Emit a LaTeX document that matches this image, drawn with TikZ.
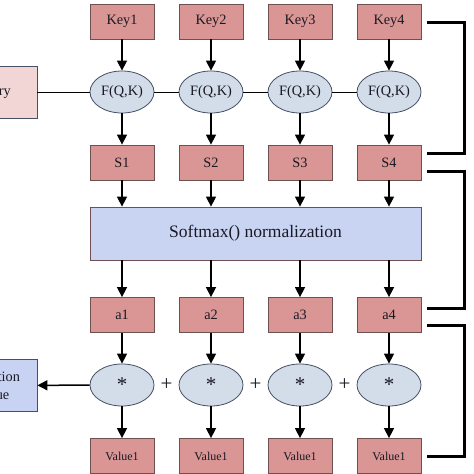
\documentclass[tikz,border=0pt]{standalone}
\usepackage{fontspec}
\setmainfont{Liberation Serif}
\usetikzlibrary{shapes.geometric,arrows.meta,calc}
\definecolor{boxred}{RGB}{217,150,148}
\definecolor{boxredline}{RGB}{110,80,80}
\definecolor{ellfill}{RGB}{210,221,233}
\definecolor{ellline}{RGB}{70,80,100}
\definecolor{softfill}{RGB}{201,212,243}
\definecolor{queryfill}{RGB}{242,214,213}
\definecolor{attfill}{RGB}{200,210,242}
\definecolor{txt}{RGB}{25,25,35}
\tikzset{
  redbox/.style={draw=boxredline, fill=boxred, line width=0.8pt, minimum width=64pt, minimum height=35pt, inner sep=0pt, text=txt, font=\fontsize{14.3}{16}\selectfont},
  valbox/.style={redbox, font=\fontsize{12}{14}\selectfont},
  fell/.style={ellipse, draw=ellline, fill=ellfill, line width=0.8pt, minimum width=64pt, minimum height=42pt, inner sep=0pt, text=txt, font=\fontsize{14.3}{16}\selectfont},
  star/.style={fell, font=\fontsize{21}{22}\selectfont},
  arr/.style={line width=1.5pt, -{Triangle[width=10pt,length=10pt]}},
  thin/.style={line width=1pt},
  brack/.style={line width=3pt},
  sidebox/.style={draw=ellline, line width=0.8pt, minimum width=88pt, minimum height=52pt, inner sep=0pt, text=txt, align=center, font=\fontsize{14.3}{18}\selectfont}
}
\begin{document}
\begin{tikzpicture}[x=1pt,y=-1pt]
\useasboundingbox (0,0) rectangle (474,474);
\clip (0,0) rectangle (474,474);
\foreach \i/\x in {1/122,2/211,3/300,4/389}{
  \node[redbox] (k\i) at (\x,21.5) {Key\i};
  \node[fell] (f\i) at (\x,92) {F(Q,K)};
  \node[redbox] (s\i) at (\x,162.5) {S\i};
  \node[redbox] (a\i) at (\x,315) {a\i};
  \node[star] (m\i) at (\x,385) {\raisebox{-2pt}{*}};
  \node[valbox] (v\i) at (\x,456) {Value1};
  \draw[arr] (k\i) -- (f\i);
  \draw[arr] (f\i) -- (s\i);
  \draw[arr] (a\i) -- (m\i);
  \draw[arr] (m\i) -- (v\i);
}
\node[draw=boxredline, fill=softfill, line width=0.8pt, minimum width=331pt, minimum height=53pt, inner sep=0pt, text=txt, font=\fontsize{17.5}{20}\selectfont] (soft) at (255.5,233.5) {Softmax() normalization};
\foreach \i in {1,2,3,4}{
  \draw[arr] (s\i) -- (s\i|-soft.north);
  \draw[arr] (a\i|-soft.south) -- (a\i);
}
\node[sidebox, fill=queryfill] (q) at (-7,92) {Query};
\node[sidebox, fill=attfill] (att) at (-7,385.5) {Attention\\Value};
\draw[thin] (q) -- (f1);
\draw[thin] (f1) -- (f2);
\draw[thin] (f2) -- (f3);
\draw[thin] (f3) -- (f4);
\draw[arr] (m1) -- (att);
\node[text=txt, font=\fontsize{21}{22}\selectfont] (p1) at ($(m1)!0.5!(m2)$) {+};
\node[text=txt, font=\fontsize{21}{22}\selectfont] (p2) at ($(m2)!0.5!(m3)$) {+};
\node[text=txt, font=\fontsize{21}{22}\selectfont] (p3) at ($(m3)!0.5!(m4)$) {+};
\coordinate (b1) at (464,22);
\coordinate (b2) at (464,153);
\coordinate (b3) at (464,171);
\coordinate (b4) at (464,308);
\coordinate (b5) at (464,325);
\coordinate (b6) at (464,456);
\draw[brack] ($(k4.east)+(6,0.5)$) -- (b1) -- (b2) -- ($(s4.east)+(6,-9.5)$);
\draw[brack] ($(s4.east)+(6,8.5)$) -- (b3) -- (b4) -- ($(a4.east)+(6,-7)$);
\draw[brack] ($(a4.east)+(6,10)$) -- (b5) -- (b6) -- ($(v4.east)+(6,0)$);
\end{tikzpicture}
\end{document}
